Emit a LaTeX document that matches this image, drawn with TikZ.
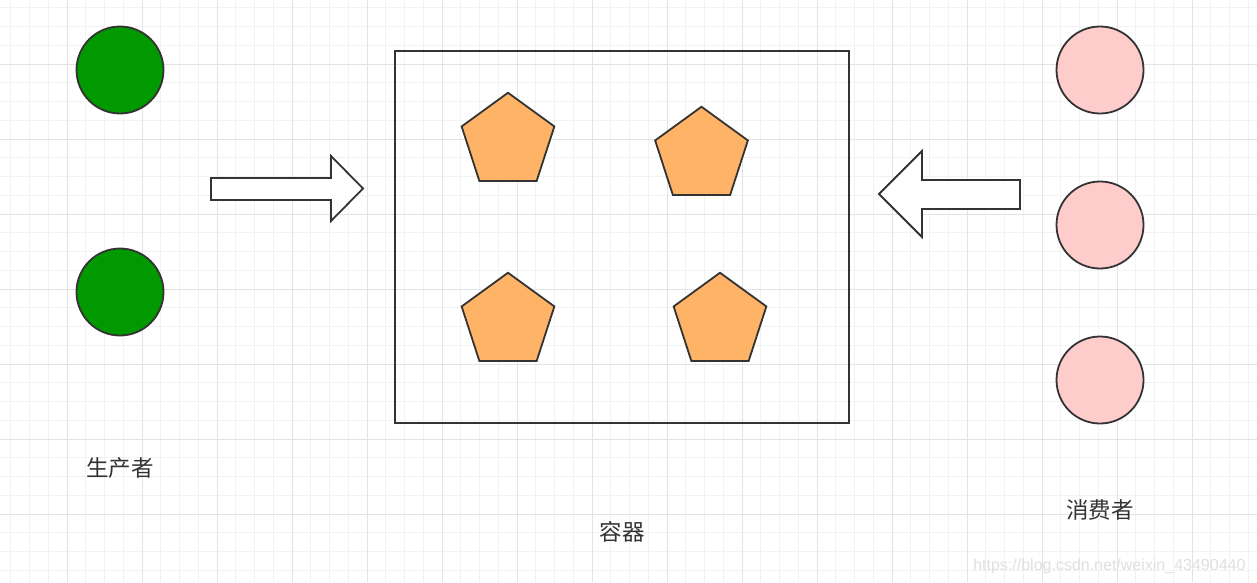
\documentclass[tikz,border=0pt]{standalone}
\usepackage{fontspec}
\usepackage{tikz}
\usetikzlibrary{shapes.geometric}
\newfontfamily\cjk{Noto Sans CJK SC}
\newfontfamily\wmfont{Liberation Sans}
\definecolor{gridminor}{HTML}{F2F2F2}
\definecolor{gridmajor}{HTML}{E3E3E3}
\definecolor{edge}{HTML}{333333}
\definecolor{prodgreen}{HTML}{009900}
\definecolor{conspink}{HTML}{FFCCCC}
\definecolor{itemorange}{HTML}{FFB366}
\tikzset{
  prod/.style={circle,draw=edge,fill=prodgreen,line width=1.8pt,minimum size=87pt,inner sep=0pt},
  cons/.style={circle,draw=edge,fill=conspink,line width=1.8pt,minimum size=87pt,inner sep=0pt},
  item/.style={regular polygon,regular polygon sides=5,draw=edge,fill=itemorange,line width=1.8pt,minimum size=97.5pt,inner sep=0pt},
  caption/.style={font=\cjk\fontsize{22.5}{26}\selectfont,text=edge},
  blockarrow/.style={draw=edge,fill=white,line width=1.8pt,line join=miter}
}

\begin{document}
\begin{tikzpicture}[x=1pt,y=-1pt]
  \useasboundingbox (0,0) rectangle (1257,582);
  \fill[white] (0,0) rectangle (1257,582);
  % grid
  \foreach \gx in {10.75,29.5,...,1257}
    \draw[gridminor,line width=0.8pt] (\gx,0) -- (\gx,582);
  \foreach \gy in {7.75,26.5,...,582}
    \draw[gridminor,line width=0.8pt] (0,\gy) -- (1257,\gy);
  \foreach \gx in {67,142,...,1257}
    \draw[gridmajor,line width=1pt] (\gx,0) -- (\gx,582);
  \foreach \gy in {64,139,...,582}
    \draw[gridmajor,line width=1pt] (0,\gy) -- (1257,\gy);

  % producers
  \node[prod] (p1) at (120,70) {};
  \node[prod] (p2) at (120,292) {};
  \node[caption] (plabel) at (120,468) {生产者};

  % container
  \draw[edge,line width=1.8pt] (395,51) rectangle (849,423);
  \node[item] (i1) at (508,141.5) {};
  \node[item] (i2) at (701.5,155.5) {};
  \node[item] (i3) at (508,321.5) {};
  \node[item] (i4) at (720,321.5) {};
  \node[caption] (clabel) at (622,532) {容器};

  % consumers
  \node[cons] (c1) at (1100,70) {};
  \node[cons] (c2) at (1100,225) {};
  \node[cons] (c3) at (1100,380) {};
  \node[caption] (slabel) at (1100,510) {消费者};

  % arrows
  \draw[blockarrow]
    (211,178) -- (331,178) -- (331,156) -- (363,188.5)
    -- (331,221) -- (331,200) -- (211,200) -- cycle;
  \draw[blockarrow]
    (1020,180) -- (922,180) -- (922,151) -- (879,194)
    -- (922,237) -- (922,209) -- (1020,209) -- cycle;

  \node[font=\wmfont\fontsize{16}{18}\selectfont,text=black!12,anchor=east] (mark) at (1249,566) {https://blog.csdn.net/weixin\_43490440};
\end{tikzpicture}
\end{document}
